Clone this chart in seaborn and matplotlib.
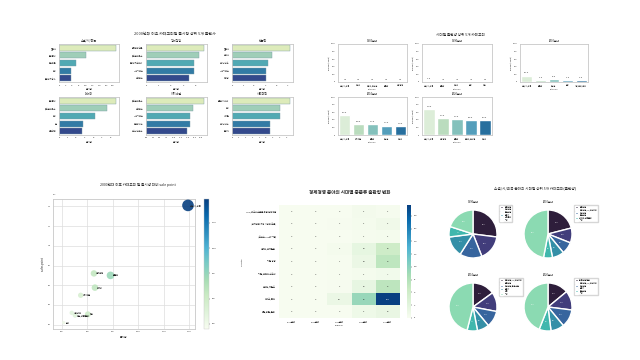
import matplotlib.pyplot as plt
import numpy as np
import pandas as pd
import seaborn as sns
from matplotlib.cm import ScalarMappable
from matplotlib.colors import Normalize

# --- top-left: top 5 publishers per category (2000s onward) ---
pub_titles = ["소설/시/희곡", "경제경영", "인문학", "에세이", "자기계발", "사회과학"]
pub_names = [
    ["민음사", "문학동네", "열린책들", "창비", "문학과지성사"],
    ["한국경제신문", "위즈덤하우스", "알에이치코리아", "21세기북스", "다산북스"],
    ["민음사", "김영사", "휴머니스트", "21세기북스", "책세상"],
    ["문학동네", "위즈덤하우스", "창비", "달", "마음산책"],
    ["위즈덤하우스", "다산북스", "21세기북스", "쌤앤파커스", "비즈니스북스"],
    ["한울아카데미", "창비", "사계절", "후마니타스", "돌베개"],
]
pub_counts = [
    [212, 101, 62, 45, 43],
    [23, 21, 19, 19, 17],
    [26, 18, 16, 15, 15],
    [33, 28, 21, 14, 13],
    [21, 17, 16, 16, 15],
    [17, 14, 14, 11, 11],
]

# --- top-right: top 5 categories per era ---
era_names = ["1980년대", "1990년대", "2000년대", "2010년대", "2020년대"]
era_cats = [
    ["소설/시/희곡", "에세이", "어린이/청소년", "인문학", "경제경영"],
    ["소설/시/희곡", "인문학", "에세이", "만화", "예술"],
    ["소설/시/희곡", "인문학", "청소년", "만화", "가정/요리/뷰티"],
    ["소설/시/희곡", "자기계발", "인문학", "청소년", "에세이"],
    ["소설/시/희곡", "경제경영", "인문학", "컴퓨터/모바일", "에세이"],
]
era_counts = [
    [1, 1, 1, 1, 1],
    [25, 7, 7, 7, 6],
    [171, 62, 70, 44, 43],
    [522, 300, 298, 248, 240],
    [690, 458, 432, 405, 404],
]

# --- bottom-left: release count vs sale point ---
cat_names = ["소설/시/희곡", "경제경영", "인문학", "에세이", "자기계발",
             "사회과학", "예술/대중문화", "역사", "만화"]
cat_counts = [1390, 652, 782, 660, 548, 478, 504, 605, 415]
cat_sales = [1.41e7, 0.72e7, 0.70e7, 0.576e7, 0.498e7, 0.32e7, 0.295e7, 0.305e7, 0.22e7]

# --- bottom-middle: business sub-categories per era ---
sub_cats = ["CEO/비즈니스맨을 위한 능력계발", "(경제경영 서적 시상작 모음)", "(포브스 100대 기업)",
            "경제학/경제일반", "기업 경영", "기업/경영자 스토리", "마케팅/세일즈",
            "재테크/투자", "창업/취업/은퇴"]
heat_values = [
    [0, 0, 0, 6, 3],
    [0, 0, 2, 4, 9],
    [0, 0, 0, 3, 4],
    [0, 0, 4, 20, 52],
    [0, 0, 1, 14, 66],
    [0, 0, 1, 4, 7],
    [0, 0, 2, 19, 67],
    [0, 0, 14, 93, 221],
    [0, 0, 0, 11, 18],
]

# --- bottom-right: fiction sub-categories share per era ---
pie_eras = ["1990년대", "2000년대", "2010년대", "2020년대"]
pie_labels = [
    ["한국소설", "영미소설", "일본소설", "한국시", "고전문학", "기타"],
    ["한국소설", "장르소설/SF/미스터리", "영미소설", "일본소설", "세계의 고전문학", "기타"],
    ["장르소설/SF/미스터리", "한국소설", "영미소설/일본소설", "한국시", "희곡", "기타"],
    ["한국소설 일반", "장르소설/SF/미스터리", "영미소설", "한국시", "일본소설", "기타"],
]
pie_shares = [
    [27, 17, 15, 14, 7, 20],
    [21, 10, 8, 8, 6, 47],
    [15, 13, 11, 8, 7, 46],
    [14, 13, 12, 9, 8, 44],
]

sns.set_theme(style="white")
plt.rcParams["font.family"] = ["Noto Sans CJK KR", "DejaVu Sans"]
plt.rcParams["axes.unicode_minus"] = False
plt.rcParams["axes.linewidth"] = 0.6
plt.rcParams["axes.edgecolor"] = "#c8c8c8"

W, H = 640, 360


def rect(x0, y0, x1, y1):
    return [x0 / W, 1 - y1 / H, (x1 - x0) / W, (y1 - y0) / H]


def small_ticks(ax, size=1.5):
    ax.tick_params(labelsize=size, length=1, width=0.3, pad=0.8, colors="#333333")


fig = plt.figure(figsize=(6.4, 3.6), dpi=100)

# top-left panels
fig.text(175 / W, 1 - 34 / H, "2000년대 이후 카테고리별 출시량 상위 5개 출판사",
         ha="center", va="center", fontsize=2.8)
tl_cols = [(59, 119), (146, 207), (232, 293)]
tl_rows = [(44, 82), (97, 135)]
for i, title in enumerate(pub_titles):
    x0, x1 = tl_cols[i % 3]
    y0, y1 = tl_rows[i // 3]
    ax = fig.add_axes(rect(x0, y0, x1, y1))
    sns.barplot(x=pub_counts[i], y=pub_names[i], hue=pub_names[i], palette="YlGnBu",
                legend=False, ax=ax, edgecolor="#7a9aa8", linewidth=0.3)
    ax.set_title(title, fontsize=2.2, pad=1.5)
    ax.set_xlabel("출시량", fontsize=1.8, labelpad=1)
    ax.set_ylabel("")
    small_ticks(ax)

# top-right panels
fig.text(460 / W, 1 - 35 / H, "시대별 출판량 상위 5개 카테고리",
         ha="center", va="center", fontsize=2.6)
tr_boxes = [(338, 44, 407, 82), (422, 44, 492, 82), (520, 44, 588, 82),
            (338, 97, 407, 135), (422, 97, 492, 135)]
for i, era in enumerate(era_names):
    ax = fig.add_axes(rect(*tr_boxes[i]))
    sns.barplot(x=era_cats[i], y=era_counts[i], hue=era_cats[i], palette="GnBu",
                legend=False, ax=ax)
    for c in ax.containers:
        ax.bar_label(c, fmt="%.1f", fontsize=1.5, padding=1.5, color="#333333")
    ax.set_ylim(0, 1000)
    ax.set_title(era, fontsize=2.0, pad=1.5)
    ax.set_xlabel("Category", fontsize=1.5, labelpad=1)
    ax.set_ylabel("Number(count)", fontsize=1.5, labelpad=1)
    small_ticks(ax, 1.4)

# bottom-left scatter
fig.text(138 / W, 1 - 185 / H, "2000년대 이후 카테고리 별 출시량 대비 sale point",
         ha="center", va="center", fontsize=2.6)
ax = fig.add_axes(rect(53, 199, 195, 329))
norm = Normalize(360, 1390)
sns.scatterplot(x=cat_counts, y=cat_sales, hue=cat_counts, size=cat_counts, sizes=(6, 70),
                palette="GnBu", hue_norm=norm, legend=False, ax=ax, alpha=0.9,
                edgecolor="none", zorder=3)
for name, cx, cy in zip(cat_names, cat_counts, cat_sales):
    ax.text(cx + 18, cy, name, fontsize=1.6, va="center", color="#222222", zorder=4)
ax.set_xlim(331, 1445)
ax.set_ylim(0.156e7, 1.475e7)
ax.set_xlabel("출시량", fontsize=2.0, labelpad=2)
ax.set_ylabel("sales point", fontsize=2.0, labelpad=2)
ax.grid(True, color="#dddddd", linewidth=0.5)
ax.set_axisbelow(True)
small_ticks(ax)
ax.yaxis.get_offset_text().set_fontsize(1.5)
cax = fig.add_axes(rect(204, 199, 209, 329))
cb = fig.colorbar(ScalarMappable(norm=norm, cmap="GnBu"), cax=cax)
cb.outline.set_linewidth(0.3)
cax.tick_params(labelsize=1.5, length=1, width=0.3, pad=0.8)

# bottom-middle heatmap
fig.text(350 / W, 1 - 193 / H, "경제경영 분야의 시대별 중분류 출판량 변화",
         ha="center", va="center", fontsize=3.3, weight="bold")
heat_df = pd.DataFrame(heat_values, index=sub_cats,
                       columns=["1980년대", "1990년대", "2000년대", "2010년대", "2020년대"])
ax = fig.add_axes(rect(279, 205, 400, 318))
cax = fig.add_axes(rect(407, 205, 411, 318))
sns.heatmap(heat_df, annot=True, fmt="d", cmap="GnBu", ax=ax, cbar_ax=cax,
            xticklabels=True, yticklabels=True, annot_kws={"fontsize": 1.7})
ax.set_xlabel("pubYear", fontsize=1.6, labelpad=1)
ax.set_ylabel("subCate", fontsize=1.6, labelpad=2)
ax.tick_params(labelsize=1.6, length=1.5, width=0.3, pad=0.8)
ax.tick_params(axis="x", rotation=0)
ax.tick_params(axis="y", rotation=0)
cax.tick_params(labelsize=1.5, length=1, width=0.3, pad=0.8)

# bottom-right pies
fig.text(535 / W, 1 - 188 / H, "소설/시/희곡 분야의 시대별 상위 5개 카테고리(출판량)",
         ha="center", va="center", fontsize=2.6)
pie_colors = sns.color_palette("mako", 6)
pie_centers = [(473, 234), (548, 234), (473, 307), (548, 307)]
for i, era in enumerate(pie_eras):
    cx, cy = pie_centers[i]
    ax = fig.add_axes(rect(cx - 30, cy - 30, cx + 30, cy + 30))
    ax.pie(pie_shares[i], colors=pie_colors, startangle=90, counterclock=False,
           autopct="%.0f%%", pctdistance=0.62,
           textprops={"color": "white", "fontsize": 1.5})
    ax.set_title(era, fontsize=2.0, pad=0)
    ax.legend(pie_labels[i], loc="upper left", bbox_to_anchor=(0.92, 1.0),
              fontsize=1.4, frameon=True, borderpad=0.4, handlelength=1.5,
              labelspacing=0.3)

fig.savefig("out.png", dpi=100)
